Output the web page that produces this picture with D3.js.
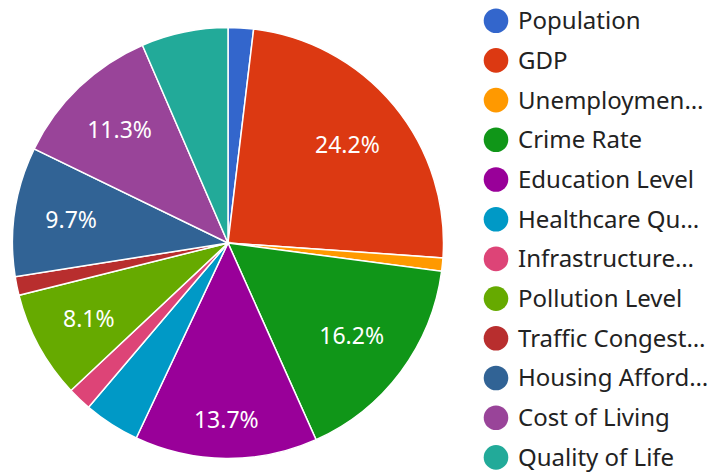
<!DOCTYPE html>
<html><head><meta charset="utf-8">
<script src="https://cdn.jsdelivr.net/npm/d3@7"></script>
<style>body{margin:0;background:#fff;}svg{display:block;font-family:"Noto Sans",sans-serif;}</style>
</head><body><svg id="c" width="713" height="473"></svg>
<script>
const categories = ["Population","GDP","Unemployment Rate","Crime Rate","Education Level","Healthcare Quality","Infrastructure Quality","Pollution Level","Traffic Congestion","Housing Affordability","Cost of Living","Quality of Life"];
const values = [1.9,24.2,1.0,16.2,13.7,4.2,1.8,8.1,1.4,9.7,11.3,6.5];
const colors = ["#3366cc","#dc3912","#ff9900","#109618","#990099","#0099c6","#dd4477","#66aa00","#b82e2e","#316395","#994499","#22aa99"];

const svg = d3.select("#c");
const cx = 228, cy = 243, r = 215.5;
const data = categories.map((c,i)=>({name:c,value:values[i],color:colors[i]}));
const pie = d3.pie().value(d=>d.value).sort(null);
const arcs = pie(data);
const total = d3.sum(values);
const arc = d3.arc().innerRadius(0).outerRadius(r);
const g = svg.append("g").attr("transform",`translate(${cx},${cy})`);
g.selectAll("path").data(arcs).join("path")
  .attr("d",arc).attr("fill",d=>d.data.color)
  .attr("stroke","#fff").attr("stroke-width",1.5);
const outerD = r*0.86;
g.selectAll("text").data(arcs.filter(d=>d.data.value/total>0.075)).join("text")
  .attr("text-anchor","middle").attr("dy","0.36em")
  .attr("fill","#fff").attr("font-size",23)
  .text(d=>(d.data.value/total*100).toFixed(1)+"%")
  .each(function(d){
    const a = (d.startAngle+d.endAngle)/2;
    const ux = Math.sin(a), uy = -Math.cos(a);
    const hw = this.getComputedTextLength()/2, hh = 8.5;
    const proj = hw*Math.abs(ux) + hh*Math.abs(uy);
    const dist = outerD - proj;
    d3.select(this).attr("transform",`translate(${ux*dist},${uy*dist})`);
  });

const lg = svg.append("g");
const maxW = 709-518;
data.forEach((d,i)=>{
  const y = 20.7 + i*39.7;
  lg.append("circle").attr("cx",496).attr("cy",y).attr("r",12.3).attr("fill",d.color);
  const t = lg.append("text").attr("x",518).attr("y",y+8.4)
    .attr("font-size",24).attr("fill","#222").text(d.name);
  if (t.node().getComputedTextLength() > maxW) {
    let s = d.name;
    while (s.length>1) {
      s = s.slice(0,-1);
      t.text(s.trimEnd()+"…");
      if (t.node().getComputedTextLength() <= maxW) break;
    }
  }
});
</script></body></html>
